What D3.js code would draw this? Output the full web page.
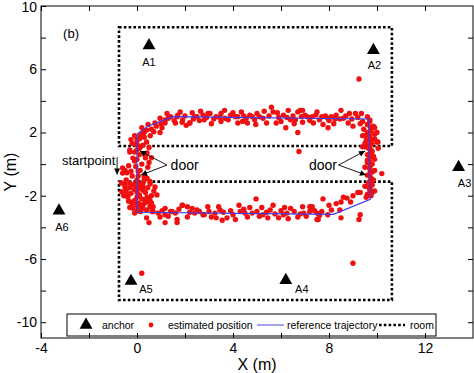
<!DOCTYPE html>
<html>
<head>
<meta charset="utf-8">
<script src="https://cdn.jsdelivr.net/npm/d3@7"></script>
<style>
body { margin: 0; background: #fff; }
svg { font-family: "Liberation Sans", Arial, sans-serif; }
</style>
</head>
<body>
<script>
// anchors
const anchorNames = ["A1", "A2", "A3", "A4", "A5", "A6"];
const anchorX = [0.5, 9.85, 13.4, 6.2, -0.25, -3.25];
const anchorY = [7.5, 7.2, -0.2, -7.35, -7.4, -2.95];

// reference trajectory
const trajX = [0, 0.45, 1.5, 9.65, 9.72, 8.18, 0, 0];
const trajY = [1.9, 2.4, 3.0, 2.85, -2.23, -3.18, -3.05, 1.9];

// rooms: [x0, x1, y0, y1]
const rooms = [[-0.75, 10.62, 1.14, 8.66], [-0.75, 10.62, -8.6, -1.11]];

// ticks
const xTicks = [-4, -2, 0, 2, 4, 6, 8, 10, 12];
const xLabels = [-4, 0, 4, 8, 12];
const yTicks = [-10, -8, -6, -4, -2, 0, 2, 4, 6, 8];
const yLabels = [-10, -6, -2, 2, 6, 10];

// estimated positions
const estimated = [
  // top edge
  [0.96,2.9],[1.17,2.6],[1.4,3.0],[1.7,3.1],[1.9,2.8],[2.2,2.6],[2.5,3.0],[2.75,3.1],[3.04,3.2],[3.3,3.0],
  [3.5,2.7],[3.9,3.1],[4.2,3.0],[4.4,2.7],[4.7,3.1],[5.0,3.2],[5.25,2.9],[5.6,3.6],[5.67,3.3],[5.8,2.6],
  [6.1,3.1],[6.4,2.8],[6.7,3.3],[6.9,3.4],[7.1,3.0],[2.96,3.2],[3.5,3.2],[3.67,2.9],[4.1,3.0],[4.2,2.6],
  [4.6,2.6],[4.8,3.0],[5.4,2.6],[6.2,2.3],[6.3,3.4],[6.6,2.8],[6.7,2.0],[6.8,3.4],[6.9,2.65],[7.3,3.0],
  [7.7,3.0],[7.96,2.3],[8.1,3.0],[8.6,2.9],[8.8,2.6],[9.1,3.2],[9.6,3.0],[9.7,2.8],[9.9,2.3],[10.0,1.4],
  [9.5,1.8],[9.6,1.2],[9.4,1.1],[6.75,0.8],[9.25,5.38],
  [2.0,3.05],[2.35,2.85],[2.6,2.75],[3.2,2.85],[3.8,2.8],[4.0,3.25],[4.45,3.05],[4.9,2.8],[5.1,3.0],[5.5,3.05],
  [5.9,2.95],[6.0,2.7],[6.5,3.05],[7.0,3.1],[7.2,2.75],[7.45,3.1],[7.6,2.8],[7.85,3.05],[8.0,2.75],[8.3,3.1],
  [8.45,2.85],[8.7,3.05],[8.95,2.85],[9.2,2.95],[9.35,3.2],[9.4,2.7],[1.55,2.75],[1.25,3.2],[2.05,2.45],[3.1,2.55],
  [7.35,2.6],[8.5,3.4],[8.2,2.55],[9.0,2.4],
  [1.8,3.3],[2.3,3.25],[2.9,2.95],[3.45,2.95],[4.35,3.3],[4.55,2.9],[5.3,3.35],[5.85,3.25],[6.25,2.95],[6.85,3.0],
  [7.5,3.3],[7.95,2.9],[8.25,2.85],[8.85,3.2],[9.3,2.55],[3.65,3.4],[2.65,3.35],[4.95,2.5],[6.55,2.55],[7.75,2.5],
  // top-left corner
  [-0.3,0.76],[-0.1,1.8],[0.1,1.6],[0.2,2.3],[0.4,2.15],[0.46,2.5],[0.75,2.6],[0.96,2.0],[1.04,2.3],[1.17,2.8],
  [1.3,2.9],[1.67,3.0],[1.6,2.6],[1.88,2.65],[2.2,2.6],[2.4,3.0],[2.8,2.8],[-0.1,0.76],[0.1,1.0],[0.25,1.2],
  [0.33,0.57],[-0.17,0.38],[0.25,1.96],[0,1.65],[0.42,0.7],[0.6,2.2],[0.8,2.4],[0.3,2.0],
  [0.55,1.8],[0.7,2.05],[1.0,2.55],[0.15,1.85],[-0.25,1.55],[0.5,1.05],[-0.05,1.25],[0.6,0.4],
  // right edge
  [9.4,1.8],[9.9,1.6],[9.5,1.1],[9.8,0.8],[9.6,0.25],[9.7,-0.2],[9.8,-0.5],[10.2,-0.6],[9.7,-1.1],[9.67,-1.5],
  [9.8,-1.8],[9.2,-1.8],[9.3,-1.8],[9.0,-2.0],[8.75,-2.15],[8.9,-2.4],[8.5,-2.4],[8.6,-2.1],[7.75,-2.2],[8.0,-2.6],
  [8.3,-2.5],[8.45,-2.9],[9.3,-3.2],[9.25,-3.5],[7.5,-3.1],[7.55,-3.5],[7.2,-2.7],[7.95,-3.2],[8.5,-3.4],[10.04,1.4],
  [9.7,2.7],[9.6,2.5],[9.85,2.4],[9.75,2.1],[9.6,2.0],[9.9,1.9],[9.7,1.7],[9.55,1.5],[9.8,1.3],[9.65,1.0],
  [9.75,0.9],[9.6,0.6],[9.85,0.5],[9.7,0.4],[9.6,0.1],[9.8,0.0],[9.7,-0.3],[9.9,-0.4],[9.6,-0.7],[9.75,-0.9],
  [9.65,-1.2],[9.8,-1.3],[9.7,-1.6],[9.6,-1.9],[9.75,-2.0],[9.55,-2.1],[9.85,-1.0],[9.5,-0.2],[9.9,0.3],[9.5,1.3],
  [10.0,2.0],[9.45,2.2],[10.05,1.0],[9.9,-1.7],[9.5,-1.4],
  [9.72,2.35],[9.68,1.85],[9.74,1.45],[9.7,1.15],[9.72,0.7],[9.68,0.15],[9.72,-0.5],[9.7,-0.75],[9.74,-1.4],[9.7,-1.85],
  // bottom edge
  [0.67,-3.0],[0.96,-3.35],[1.17,-2.8],[1.46,-3.0],[1.67,-3.5],[1.88,-2.6],[2.1,-3.35],[2.3,-2.8],[2.5,-2.9],[2.75,-3.2],
  [3.1,-3.35],[3.4,-2.7],[3.46,-2.9],[3.75,-3.4],[4.1,-3.5],[4.3,-3.0],[4.6,-3.35],[4.96,-2.2],[5.0,-3.0],[5.25,-3.2],
  [5.55,-2.9],[5.67,-2.6],[5.9,-3.4],[6.1,-3.2],[6.4,-2.8],[6.7,-3.35],[6.9,-2.7],[7.2,-3.0],[7.3,-2.7],[7.5,-3.5],
  [0.63,-3.0],[0.88,-3.1],[1.17,-3.2],[1.4,-3.0],[1.6,-3.1],[1.9,-2.6],[2.1,-2.7],[2.4,-3.1],[2.6,-3.0],[2.8,-3.2],
  [0.5,-3.7],[1.67,-3.7],[1.17,-3.7],[3.0,-3.0],[3.25,-3.1],[3.6,-3.05],[3.9,-2.95],[4.0,-3.2],[4.45,-2.85],[4.8,-3.1],
  [5.1,-3.3],[5.4,-3.05],[5.75,-3.15],[6.0,-2.95],[6.25,-3.1],[6.55,-3.0],[6.8,-3.15],[7.05,-3.3],[7.4,-2.95],[7.7,-3.0],
  [8.1,-2.9],[2.2,-3.05],[1.3,-3.3],[4.25,-2.6],[5.2,-2.75],[6.3,-3.45],[3.55,-3.55],[0.2,-6.9],[9.0,-6.27],
  [1.05,-2.95],[1.75,-2.85],[2.95,-2.7],[3.3,-3.4],[4.5,-3.1],[4.7,-2.75],[5.45,-3.4],[6.15,-2.75],[6.95,-3.1],[7.6,-3.25],
  // left edge
  [-0.6,-0.25],[-0.42,-0.55],[-0.5,-1.45],[-0.63,-1.75],[-0.38,-1.95],[-0.2,-2.4],[-0.17,-2.8],[0,-2.6],[0.4,-3.4],[0.25,-1.45],
  [0.54,-2.3],[0.67,-2.7],[0.13,-0.4],[-0.3,-1.2],[-0.6,-0.57],[-0.5,-1.3],[-0.3,-1.5],[-0.38,-2.1],[-0.2,-2.5],[0.25,-1.65],
  [0.42,-2.1],[0.46,-2.4],[0.54,-2.7],[0.25,-2.8],[0.75,-1.45],[0.83,-1.95],[0.42,-0.9],[0.54,-1.1],
  [0.0,1.5],[0.3,1.7],[-0.2,1.3],[0.15,1.1],[0.4,1.4],[-0.3,0.9],[0.1,0.6],[0.35,0.4],[-0.1,0.2],[0.2,0.0],
  [-0.35,-0.1],[0.45,-0.2],[0.05,-0.45],[-0.2,-0.75],[0.3,-0.8],[0.0,-1.0],[-0.45,-1.0],[0.55,-1.25],[0.1,-1.3],[-0.1,-1.6],
  [0.35,-1.8],[-0.55,-2.0],[0.1,-1.95],[0.2,-2.2],[-0.1,-2.3],[0.3,-2.5],[0.05,-2.7],[-0.3,-2.75],[0.4,-2.9],[0.15,-3.0],
  [-0.1,-3.1],[0.6,-2.0],[0.7,-1.7],[-0.65,-1.2],[-0.5,-0.4],[0.5,0.1],[0.05,-2.45],[0.25,-1.2],[-0.25,-1.85],[0.45,-1.5],
  [0.0,-1.2],[0.0,-1.5],[0.0,-1.8],[0.0,-2.1],[0.02,-2.95],[0.05,-0.75],[0.0,0.9],[0.0,0.3],[-0.05,-0.15],[0.03,1.2],
  [0.15,-1.55],[-0.15,-1.3],[0.2,-2.6],[-0.35,-2.35],[0.35,-2.25],[0.6,-2.45],[-0.45,-1.7],[0.3,-1.0],[-0.25,-0.45],[0.1,-2.85]
];

const width = 474, height = 373;
const svg = d3.select("body").append("svg")
  .attr("width", width)
  .attr("height", height);

const x = d3.scaleLinear().domain([-4, 14]).range([41, 473]);
const y = d3.scaleLinear().domain([-11, 10]).range([338, 6]);

const defs = svg.append("defs");
defs.append("marker")
  .attr("id", "arrow")
  .attr("viewBox", "0 0 10 10")
  .attr("refX", 10)
  .attr("refY", 5)
  .attr("markerWidth", 7)
  .attr("markerHeight", 6)
  .attr("markerUnits", "userSpaceOnUse")
  .attr("orient", "auto")
  .append("path")
  .attr("d", "M0,0 L10,5 L0,10 Z")
  .attr("fill", "black");

// Rooms
svg.selectAll(".room")
  .data(rooms)
  .enter()
  .append("rect")
  .attr("x", d => x(d[0]))
  .attr("y", d => y(d[3]))
  .attr("width", d => x(d[1]) - x(d[0]))
  .attr("height", d => y(d[2]) - y(d[3]))
  .attr("fill", "none")
  .attr("stroke", "black")
  .attr("stroke-width", 2.6)
  .attr("stroke-dasharray", "2.6,2.2");

// Estimated positions
svg.selectAll(".est")
  .data(estimated)
  .enter()
  .append("circle")
  .attr("cx", d => x(d[0]))
  .attr("cy", d => y(d[1]))
  .attr("r", 2.7)
  .attr("fill", "#f01010");

// Reference trajectory
const line = d3.line().x(d => x(d[0])).y(d => y(d[1]));
svg.append("path")
  .attr("d", line(trajX.map((v, i) => [v, trajY[i]])))
  .attr("fill", "none")
  .attr("stroke", "#3c3cf0")
  .attr("stroke-width", 1.1);

// Anchors
const tri = d3.symbol().type(d3.symbolTriangle).size(72);
const labelOffset = { A1: [0, 20], A2: [1, 19], A3: [6, 20], A4: [16, 13], A5: [15, 12], A6: [3, 20] };
anchorNames.forEach((name, i) => {
  const ax = x(anchorX[i]), ay = y(anchorY[i]);
  svg.append("path")
    .attr("d", tri())
    .attr("transform", `translate(${ax},${ay})`)
    .attr("fill", "black");
  svg.append("text")
    .attr("x", ax + labelOffset[name][0])
    .attr("y", ay + labelOffset[name][1])
    .attr("text-anchor", "middle")
    .attr("font-size", 11)
    .text(name);
});

// Annotations
function arrow(x1, y1, x2, y2) {
  svg.append("line")
    .attr("x1", x(x1)).attr("y1", y(y1))
    .attr("x2", x(x2)).attr("y2", y(y2))
    .attr("stroke", "black")
    .attr("stroke-width", 0.9)
    .attr("marker-end", "url(#arrow)");
}
arrow(1.25, -0.06, 0.12, 0.83);
arrow(1.25, -0.06, 0.17, -0.69);
arrow(8.4, -0.06, 9.5, 0.83);
arrow(8.4, -0.06, 9.54, -0.69);
arrow(-0.83, 0.45, -0.83, -0.66);

svg.append("text")
  .attr("x", x(1.4)).attr("y", y(-0.37))
  .attr("font-size", 14)
  .text("door");
svg.append("text")
  .attr("x", x(8.33)).attr("y", y(-0.37))
  .attr("text-anchor", "end")
  .attr("font-size", 14)
  .text("door");
svg.append("text")
  .attr("x", x(-0.9)).attr("y", y(-0.06))
  .attr("text-anchor", "end")
  .attr("font-size", 13)
  .text("startpoint");
svg.append("text")
  .attr("x", x(-3.08)).attr("y", y(8.0))
  .attr("font-size", 13)
  .text("(b)");

// Legend
const lg = svg.append("g");
lg.append("rect")
  .attr("x", 67).attr("y", 314)
  .attr("width", 369).attr("height", 22)
  .attr("fill", "white")
  .attr("stroke", "black")
  .attr("stroke-width", 1);
lg.append("path")
  .attr("d", tri())
  .attr("transform", "translate(86,325)")
  .attr("fill", "black");
lg.append("circle")
  .attr("cx", 151).attr("cy", 325).attr("r", 2.4)
  .attr("fill", "#f01010");
lg.append("line")
  .attr("x1", 257).attr("x2", 284).attr("y1", 325).attr("y2", 325)
  .attr("stroke", "#5a5ae0").attr("stroke-width", 1.1);
lg.append("line")
  .attr("x1", 379).attr("x2", 405).attr("y1", 325).attr("y2", 325)
  .attr("stroke", "black").attr("stroke-width", 2.6)
  .attr("stroke-dasharray", "2.6,2.2");
[["anchor", 102], ["estimated position", 168], ["reference trajectory", 287], ["room", 410]]
  .forEach(([t, px]) => {
    lg.append("text")
      .attr("x", px).attr("y", 329)
      .attr("font-size", 10.5)
      .text(t);
  });

// Axes
const fmtX = d => xLabels.includes(d) ? d : "";
const fmtY = d => yLabels.includes(d) ? d : "";
svg.append("g")
  .attr("transform", `translate(0,${y(-11)})`)
  .call(d3.axisBottom(x).tickValues(xTicks).tickFormat(fmtX).tickSizeInner(-5).tickSizeOuter(0).tickPadding(5));
svg.append("g")
  .attr("transform", `translate(0,${y(10)})`)
  .call(d3.axisTop(x).tickValues(xTicks).tickFormat("").tickSizeInner(-5).tickSizeOuter(0));
const yAxis = svg.append("g")
  .attr("transform", `translate(${x(-4)},0)`)
  .call(d3.axisLeft(y).tickValues(yTicks.concat([10])).tickFormat(fmtY).tickSizeInner(-5).tickSizeOuter(0).tickPadding(4));
svg.append("g")
  .attr("transform", `translate(${x(14)},0)`)
  .call(d3.axisRight(y).tickValues(yTicks).tickFormat("").tickSizeInner(-5).tickSizeOuter(0));

svg.selectAll(".domain").remove();
svg.selectAll(".tick line").attr("stroke", "black");
svg.selectAll(".tick text")
  .attr("font-size", 14)
  .attr("font-family", "Liberation Sans, Arial, sans-serif")
  .attr("fill", "black");
// keep the top label inside the picture
yAxis.selectAll(".tick text").filter(d => d === 10).attr("dy", "0.42em");

svg.append("rect")
  .attr("x", x(-4)).attr("y", y(10))
  .attr("width", x(14) - x(-4)).attr("height", y(-11) - y(10))
  .attr("fill", "none")
  .attr("stroke", "black")
  .attr("stroke-width", 1);

svg.append("text")
  .attr("x", (x(-4) + x(14)) / 2).attr("y", 370)
  .attr("text-anchor", "middle")
  .attr("font-size", 16)
  .text("X (m)");
svg.append("text")
  .attr("transform", `translate(16,${(y(10) + y(-11)) / 2}) rotate(-90)`)
  .attr("text-anchor", "middle")
  .attr("font-size", 16)
  .text("Y (m)");
</script>
</body>
</html>
